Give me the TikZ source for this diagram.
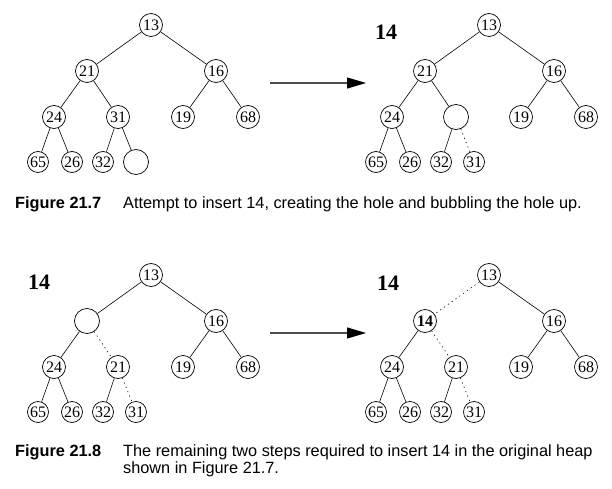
\documentclass[tikz,border=0pt]{standalone}
\usepackage{fontspec}
\setmainfont{Liberation Serif}
\setsansfont{Liberation Sans}
\usetikzlibrary{arrows.meta}

\begin{document}
\begin{tikzpicture}[
  x=1pt, y=-1pt,
  heapkey/.style={
    draw,
    circle,
    inner sep=0pt,
    minimum size=23pt,
    line width=0.7pt,
    font=\fontsize{16}{16}\selectfont
  },
  leaf/.style={heapkey,minimum size=21pt},
  hole/.style={heapkey,minimum size=25pt},
  link/.style={line width=0.6pt},
  moved/.style={link,dash pattern=on 1.2pt off 3.5pt},
  arrow/.style={-{Triangle[length=19pt,width=11pt,color=black]},line width=1.3pt,black!70},
  newkey/.style={font=\bfseries\fontsize{22}{22}\selectfont},
  caption/.style={font=\sffamily\fontsize{16.3}{16.3}\selectfont,anchor=base west,inner sep=0pt}
]
  \useasboundingbox (0,0) rectangle (612,489);

  % Figure 21.7, before
  \begin{scope}[shift={(151,25)}]
    \node[heapkey] (a13) at (0,0) {13};
    \node[heapkey] (a21) at (-64,46) {21};
    \node[heapkey] (a16) at (65,46) {16};
    \node[heapkey] (a24) at (-97,92) {24};
    \node[heapkey] (a31) at (-33,92) {31};
    \node[heapkey] (a19) at (32,92) {19};
    \node[heapkey] (a68) at (97,92) {68};
    \node[leaf] (a65) at (-113,137) {65};
    \node[leaf] (a26) at (-79,137) {26};
    \node[leaf] (a32) at (-48,137) {32};
    \node[hole] (ahole) at (-15,137) {};
    \draw[link] (a13) -- (a21) (a13) -- (a16)
      (a21) -- (a24) (a21) -- (a31) (a16) -- (a19) (a16) -- (a68)
      (a24) -- (a65) (a24) -- (a26) (a31) -- (a32) (a31) -- (ahole);
  \end{scope}

  % Figure 21.7, after
  \begin{scope}[shift={(489,25)}]
    \node[heapkey] (b13) at (0,0) {13};
    \node[heapkey] (b21) at (-64,46) {21};
    \node[heapkey] (b16) at (65,46) {16};
    \node[heapkey] (b24) at (-97,92) {24};
    \node[hole] (bhole) at (-33,92) {};
    \node[heapkey] (b19) at (32,92) {19};
    \node[heapkey] (b68) at (97,92) {68};
    \node[leaf] (b65) at (-113,137) {65};
    \node[leaf] (b26) at (-79,137) {26};
    \node[leaf] (b32) at (-48,137) {32};
    \node[leaf] (b31) at (-15,137) {31};
    \draw[link] (b13) -- (b21) (b13) -- (b16)
      (b21) -- (b24) (b21) -- (bhole) (b16) -- (b19) (b16) -- (b68)
      (b24) -- (b65) (b24) -- (b26) (bhole) -- (b32);
    \draw[moved] (bhole) -- (b31);
  \end{scope}
  \node[newkey] (bnew) at (386,32) {14};

  % Figure 21.8, first step
  \begin{scope}[shift={(151,275)}]
    \node[heapkey] (c13) at (0,0) {13};
    \node[hole] (chole) at (-64,46) {};
    \node[heapkey] (c16) at (65,46) {16};
    \node[heapkey] (c24) at (-97,92) {24};
    \node[heapkey] (c21) at (-33,92) {21};
    \node[heapkey] (c19) at (32,92) {19};
    \node[heapkey] (c68) at (97,92) {68};
    \node[leaf] (c65) at (-113,137) {65};
    \node[leaf] (c26) at (-79,137) {26};
    \node[leaf] (c32) at (-48,137) {32};
    \node[leaf] (c31) at (-15,137) {31};
    \draw[link] (c13) -- (chole) (c13) -- (c16)
      (chole) -- (c24) (c16) -- (c19) (c16) -- (c68)
      (c24) -- (c65) (c24) -- (c26) (c21) -- (c32);
    \draw[moved] (chole) -- (c21) (c21) -- (c31);
  \end{scope}
  \node[newkey] (cnew) at (39,282) {14};

  % Figure 21.8, second step
  \begin{scope}[shift={(489,275)}]
    \node[heapkey] (d13) at (0,0) {13};
    \node[heapkey,font=\bfseries\fontsize{16}{16}\selectfont] (d14) at (-64,46) {14};
    \node[heapkey] (d16) at (65,46) {16};
    \node[heapkey] (d24) at (-97,92) {24};
    \node[heapkey] (d21) at (-33,92) {21};
    \node[heapkey] (d19) at (32,92) {19};
    \node[heapkey] (d68) at (97,92) {68};
    \node[leaf] (d65) at (-113,137) {65};
    \node[leaf] (d26) at (-79,137) {26};
    \node[leaf] (d32) at (-48,137) {32};
    \node[leaf] (d31) at (-15,137) {31};
    \draw[link] (d13) -- (d16)
      (d14) -- (d24) (d16) -- (d19) (d16) -- (d68)
      (d24) -- (d65) (d24) -- (d26) (d21) -- (d32);
    \draw[moved] (d13) -- (d14) (d14) -- (d21) (d21) -- (d31);
  \end{scope}
  \node[newkey] (dnew) at (388,283) {14};

  % arrows between the steps
  \coordinate (topfrom) at (270,83);
  \coordinate (topto) at (366,83);
  \coordinate (lowfrom) at (270,333);
  \coordinate (lowto) at (366,333);
  \draw[arrow] (topfrom) -- (topto);
  \draw[arrow] (lowfrom) -- (lowto);

  % captions
  \node[caption] (fig7) at (15,208) {\bfseries Figure 21.7};
  \node[caption] (fig7text) at (123,208)
    {Attempt to insert 14, creating the hole and bubbling the hole up.};
  \node[caption] (fig8) at (15,456) {\bfseries Figure 21.8};
  \node[caption] (fig8text) at (123,456)
    {The remaining two steps required to insert 14 in the original heap};
  \node[caption] (fig8more) at (123,473) {shown in Figure 21.7.};
\end{tikzpicture}
\end{document}
